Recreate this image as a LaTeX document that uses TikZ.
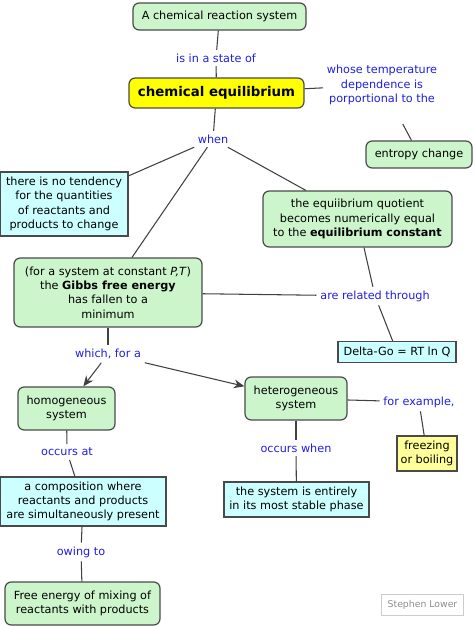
\documentclass[tikz,border=0pt]{standalone}
\usepackage{fontspec}
\setmainfont{DejaVu Sans}
\usepackage{tikz}
\usetikzlibrary{arrows.meta, positioning}
\definecolor{conceptgreen}{HTML}{CCF5CC}
\definecolor{factcyan}{HTML}{CCFFFF}
\definecolor{focusyellow}{HTML}{FFFF00}
\definecolor{paleyellow}{HTML}{FFFF99}
\definecolor{linkblue}{HTML}{1F1FE0}
\definecolor{edgegray}{HTML}{4A4A4A}

\begin{document}
\begin{tikzpicture}[
        x=0.02cm, y=-0.02cm,
        box/.style = {draw=edgegray, line width=0.7pt, align=center, inner sep=1pt, font=\fontsize{6.4}{8.1}\selectfont},
        concept/.style = {box, rounded corners=3.5pt, fill=conceptgreen},
        focus/.style = {box, rounded corners=3.5pt, fill=focusyellow, font=\fontsize{7.6}{9}\selectfont\bfseries},
        fact/.style = {box, fill=factcyan},
        instance/.style = {box, fill=paleyellow},
        phrase/.style = {align=center, inner sep=2pt, text=linkblue, font=\fontsize{6.4}{8.1}\selectfont},
        credit/.style = {draw=black!20, line width=0.6pt, text=black!45, font=\fontsize{5.3}{6.5}\selectfont, minimum width=1.62cm, minimum height=0.4cm},
        conn/.style = {draw=black!75, line width=0.6pt},
        arrow/.style = {conn, -{Stealth[length=6pt, width=5pt]}}
    ]
        \useasboundingbox (0,0) rectangle (474,626);

        % Top: system and equilibrium
        \node (system) [concept, minimum width=3.46cm, minimum height=0.54cm] at (219.5,16.5) {A chemical reaction system};
        \node (state) [phrase] at (216,58) {is in a state of};
        \node (equil) [focus, minimum width=3.5cm, minimum height=0.6cm] at (216.5,93) {chemical equilibrium};
        \node (whose) [phrase] at (382,85) {whose temperature\\dependence is\\porportional to the};
        \node (entropy) [concept, minimum width=2.12cm, minimum height=0.54cm] at (419,154.5) {entropy change};

        % Conditions
        \node (when) [phrase] at (213,139) {when};
        \node (notend) [fact, minimum width=2.56cm, minimum height=1.28cm] at (64,204) {there is no tendency\\for the quantities\\of reactants and\\products to change};
        \node (quot) [concept, minimum width=3.78cm, minimum height=1.12cm] at (357.5,219) {the equiibrium quotient\\becomes numerically equal\\to the \textbf{equilibrium constant}};
        \node (gibbs) [concept, minimum width=3.76cm, minimum height=1.38cm] at (108,292.5) {(for a system at constant \textit{P,T})\\the \textbf{Gibbs free energy}\\has fallen to a\\minimum};
        \node (related) [phrase] at (375,296) {are related through};
        \node (delta) [fact, minimum width=2.36cm, minimum height=0.42cm] at (397,352) {Delta-Go = RT ln Q};

        % System types
        \node (whichfor) [phrase] at (108,354) {which, for a};
        \node (homog) [concept, minimum width=1.94cm, minimum height=0.86cm] at (66.5,408.5) {homogeneous\\system};
        \node (heter) [concept, minimum width=2.04cm, minimum height=0.86cm] at (296,398.5) {heterogeneous\\system};
        \node (forex) [phrase] at (419,402) {for example,};
        \node (freeze) [instance, minimum width=1.2cm, minimum height=0.7cm] at (427,453.5) {freezing\\or boiling};
        \node (occat) [phrase] at (67,452) {occurs at};
        \node (occwhen) [phrase] at (296,448) {occurs when};
        \node (compos) [fact, minimum width=3.32cm, minimum height=0.98cm] at (83,501.5) {a composition where\\reactants and products\\are simultaneously present};
        \node (stable) [fact, minimum width=2.9cm, minimum height=0.7cm] at (296.5,499.5) {the system is entirely\\in its most stable phase};
        \node (owing) [phrase] at (81,552) {owing to};
        \node (mixing) [concept, minimum width=3.1cm, minimum height=0.86cm] at (82.5,603.5) {Free energy of mixing of\\reactants with products};
        \node (lower) [credit] at (422.5,605) {Stephen Lower};

        % Links
        \draw [conn] (system) -- (state);
        \draw [conn] (state) -- (equil);
        \draw [conn] (equil) -- (whose);
        \draw [conn, shorten <=10pt] (whose) -- (entropy);
        \draw [conn] (equil) -- (when);
        \draw [conn] (when) -- (notend);
        \draw [conn] (when) -- (gibbs);
        \draw [conn] (when) -- (quot);
        \draw [conn] (quot) -- (related);
        \draw [conn] (gibbs) -- (related);
        \draw [conn] (related) -- (delta);
        \draw [conn] (gibbs) -- (whichfor);
        \draw [arrow] (whichfor) -- (homog);
        \draw [arrow] (whichfor) -- (heter);
        \draw [conn] (heter) -- (forex);
        \draw [conn] (forex) -- (freeze);
        \draw [conn] (homog) -- (occat);
        \draw [conn] (occat) -- (compos);
        \draw [conn] (heter) -- (occwhen);
        \draw [conn] (occwhen) -- (stable);
        \draw [conn] (compos) -- (owing);
        \draw [conn] (owing) -- (mixing);

    \end{tikzpicture}
\end{document}
